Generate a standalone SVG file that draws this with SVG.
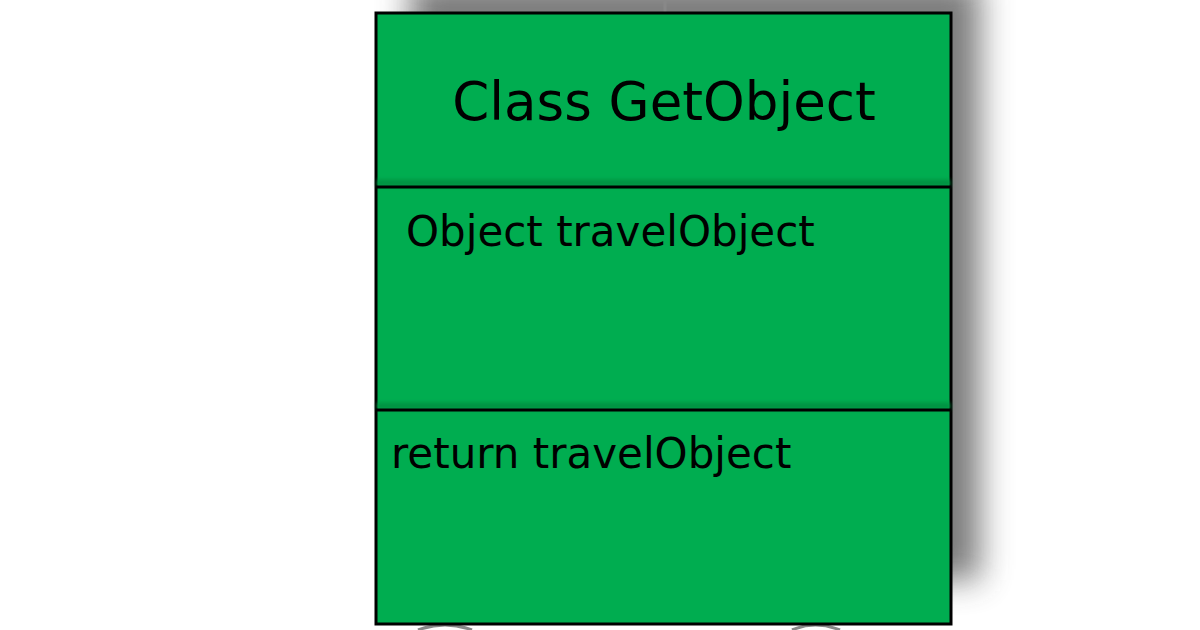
<svg xmlns="http://www.w3.org/2000/svg" width="1200" height="630" viewBox="0 0 1200 630">
<defs>
<filter id="blur" x="-30%" y="-30%" width="160%" height="160%"><feGaussianBlur stdDeviation="16"/></filter>
<filter id="sblur" x="-20%" y="-200%" width="140%" height="500%"><feGaussianBlur stdDeviation="2"/></filter>
</defs>
<style>
.t{font-family:"DejaVu Sans",Verdana,sans-serif;fill:#000}
.box{fill:#00ad50;stroke:#000;stroke-width:3}
.div{stroke:#000;stroke-width:3}
.deco{fill:none;stroke:#888;stroke-width:3}
</style>
<rect width="1200" height="630" fill="#fff"/>
<rect x="410" y="-20" width="570" height="600" fill="#444" filter="url(#blur)" opacity="0.7"/>
<g id="connectors">
<line x1="665" y1="0" x2="665" y2="13" class="deco"/>
<path d="M418,630 Q445,620 472,630" class="deco"/>
<path d="M792,630 Q815,620 840,630" class="deco"/>
</g>
<g id="class-box">
<rect x="376" y="13" width="575" height="611" class="box"/>
<rect x="377" y="180" width="573" height="6" fill="#008f40" filter="url(#sblur)"/>
<rect x="377" y="403" width="573" height="6" fill="#008f40" filter="url(#sblur)"/>
<line x1="376" y1="187" x2="951" y2="187" class="div"/>
<line x1="376" y1="410" x2="951" y2="410" class="div"/>
<text x="664" y="120" class="t" font-size="53" text-anchor="middle">Class GetObject</text>
<text x="406" y="246" class="t" font-size="42">Object travelObject</text>
<text x="391" y="468" class="t" font-size="42">return travelObject</text>
</g>
</svg>
